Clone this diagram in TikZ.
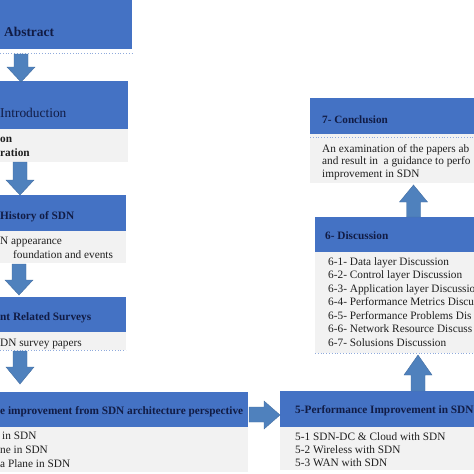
\documentclass[tikz,border=0pt]{standalone}
\usepackage{fontspec}
\setmainfont{Liberation Serif}
\definecolor{hdrblue}{HTML}{4472C4}
\definecolor{arrblue}{HTML}{4F81BD}
\definecolor{boxgray}{HTML}{F2F2F2}
\definecolor{navy}{HTML}{111C45}
\definecolor{dotc}{HTML}{8FAADC}
\newcommand\blockarr[4]{%
  \fill[barrow] (#1-7,#2) -- (#1+7,#2) -- (#1+7,#3) -- (#1+14,#3) -- (#1,#4) -- (#1-14,#3) -- (#1-7,#3) -- cycle;}
\begin{document}
\begin{tikzpicture}[x=1pt,y=-1pt,
  hdr/.style={fill=hdrblue, draw=none, rectangle, inner sep=0pt, anchor=north west},
  gbox/.style={fill=boxgray, draw=none, rectangle, inner sep=0pt, anchor=north west},
  barrow/.style={fill=arrblue, draw=arrblue!85!black, line width=0.4pt},
  htxt/.style={anchor=base west, inner sep=0pt, text=navy, font=\fontsize{11.3}{13}\selectfont\bfseries},
  bigtxt/.style={anchor=base west, inner sep=0pt, text=navy, font=\fontsize{13.4}{15}\selectfont},
  btxt/.style={anchor=base west, inner sep=0pt, text=black!88, font=\fontsize{11.3}{13.5}\selectfont},
  dotl/.style={draw=dotc, dotted, line width=0.8pt}]
\useasboundingbox (0,0) rectangle (474,474);
\clip (0,0) rectangle (474,474);

% boxes
\node[hdr, minimum width=142pt, minimum height=49pt] (abs) at (-10,0) {};
\node[hdr, minimum width=138pt, minimum height=48pt] (intro) at (-10,81) {};
\node[gbox, minimum width=138pt, minimum height=33pt] (introg) at (-10,129) {};
\node[hdr, minimum width=136pt, minimum height=36pt] (hist) at (-10,195) {};
\node[gbox, minimum width=136pt, minimum height=32pt] (histg) at (-10,231) {};
\node[hdr, minimum width=136pt, minimum height=35pt] (surv) at (-10,297) {};
\node[gbox, minimum width=136pt, minimum height=18pt] (survg) at (-10,332) {};
\node[hdr, minimum width=258pt, minimum height=35pt] (arch) at (-10,392) {};
\node[gbox, minimum width=258pt, minimum height=45pt] (archg) at (-10,427) {};
\node[hdr, minimum width=204pt, minimum height=36pt] (perf) at (280,391) {};
\node[gbox, minimum width=204pt, minimum height=43pt] (perfg) at (280,427) {};
\node[hdr, minimum width=169pt, minimum height=35pt] (disc) at (315,217) {};
\node[gbox, minimum width=169pt, minimum height=101pt] (discg) at (315,252) {};
\node[hdr, minimum width=174pt, minimum height=36pt] (conc) at (310,98) {};
\node[gbox, minimum width=174pt, minimum height=49pt] (concg) at (310,134) {};

% dotted separators
\draw[dotl] (0,53) -- (132,53);
\draw[dotl] (0,350) -- (126,350);
\draw[dotl] (315,353) -- (474,353);
\draw[dotl] (310,137) -- (474,137);

% block arrows
\blockarr{21}{54}{67}{82}
\blockarr{20}{162}{180}{195}
\blockarr{19}{264}{280}{295}
\blockarr{20}{351}{367}{384}
\blockarr{418}{391}{375}{355}
\blockarr{413.5}{217}{202}{185}
\fill[barrow] (249,407) -- (264,407) -- (264,401) -- (280,415) -- (264,429) -- (264,422) -- (249,422) -- cycle;

% texts
\node[bigtxt, font=\fontsize{13.4}{15}\selectfont\bfseries] (tabs) at (4,36) {Abstract};
\node[bigtxt] (tintro) at (0,117) {Introduction};
\node[btxt, font=\fontsize{11.3}{13}\selectfont\bfseries] (ti1) at (0,142) {on};
\node[btxt, font=\fontsize{11.3}{13}\selectfont\bfseries] (ti2) at (0,156) {ration};
\node[htxt] (thist) at (0,219) {History of SDN};
\node[btxt] (th1) at (0,244) {N appearance};
\node[btxt] (th2) at (13,258) {foundation and events};
\node[htxt] (tsurv) at (0,320) {nt Related Surveys};
\node[btxt] (ts1) at (0,346) {DN survey papers};
\node[htxt] (tarch) at (0,414) {e improvement from SDN architecture perspective};
\node[btxt] (ta1) at (2,439) {in SDN};
\node[btxt] (ta2) at (0,453) {ne in SDN};
\node[btxt] (ta3) at (0,467) {a Plane in SDN};
\node[htxt] (tperf) at (295,413) {5-Performance Improvement in SDN};
\node[btxt] (tp1) at (295,440) {5-1 SDN-DC \& Cloud with SDN};
\node[btxt] (tp2) at (295,453) {5-2 Wireless with SDN};
\node[btxt] (tp3) at (295,466) {5-3 WAN with SDN};
\node[htxt] (tdisc) at (325,239) {6- Discussion};
\node[btxt] (td1) at (328,265) {6-1- Data layer Discussion};
\node[btxt] (td2) at (328,278.5) {6-2- Control layer Discussion};
\node[btxt] (td3) at (328,292) {6-3- Application layer Discussio};
\node[btxt] (td4) at (328,305.5) {6-4- Performance Metrics Discu};
\node[btxt] (td5) at (328,319) {6-5- Performance Problems Dis};
\node[btxt] (td6) at (328,332.5) {6-6- Network Resource Discuss};
\node[btxt] (td7) at (328,346) {6-7- Solusions Discussion};
\node[htxt, font=\fontsize{11.2}{13}\selectfont\bfseries] (tconc) at (322,123) {7- Conclusion};
\node[btxt] (tc1) at (322,152) {An examination of the papers ab};
\node[btxt] (tc2) at (322,164.5) {and result in\ \ a guidance to perfo};
\node[btxt] (tc3) at (322,177) {improvement in SDN};
\end{tikzpicture}
\end{document}
